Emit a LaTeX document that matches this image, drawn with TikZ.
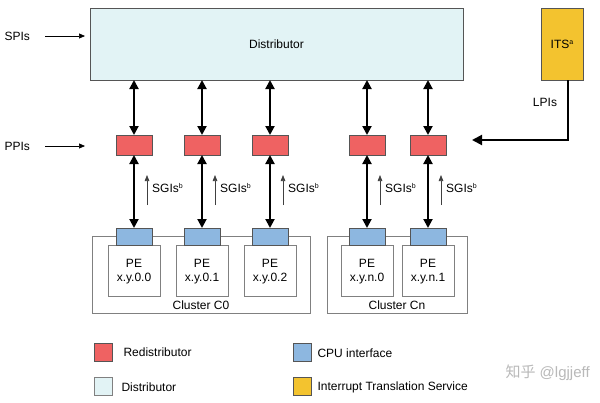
\documentclass[tikz,border=0pt]{standalone}
\usepackage{fontspec}
\usetikzlibrary{arrows.meta}
\setmainfont{Liberation Sans}
\newfontfamily\cjk{Noto Sans CJK SC}
\definecolor{distc}{HTML}{E2F3F5}
\definecolor{redc}{HTML}{EF6262}
\definecolor{bluec}{HTML}{8DB7E0}
\definecolor{itsc}{HTML}{F3C32F}
\definecolor{edge}{HTML}{555555}
\newcommand{\supsc}[1]{\raisebox{0.6ex}{\fontsize{7}{8}\selectfont #1}}
\begin{document}
\begin{tikzpicture}[x=1pt,y=-1pt,font=\fontsize{12}{14}\selectfont,
  box/.style={draw=edge,line width=0.8pt},
  bus/.style={line width=2pt,{Triangle[length=9pt,width=9pt]}-{Triangle[length=9pt,width=9pt]}},
  thin/.style={line width=0.7pt,-{Triangle[length=6pt,width=5pt]}},
  sgi/.style={line width=0.7pt,draw=black!75,-{Triangle[length=6pt,width=4.5pt]}}]
\useasboundingbox (0,0) rectangle (600,402);
\fill[white] (0,0) rectangle (600,402);
\draw[box,fill=distc] (90,8) rectangle (463,80);
\node (dist) at (276.5,44) {Distributor};
\draw[box,fill=itsc] (541,8) rectangle (583,80);
\node (its) at (562,44) {ITS\supsc{a}};
\coordinate (itsb) at (568,80);
\coordinate (lpiend) at (472,140);
\draw[line width=2pt,-{Triangle[length=10pt,width=10pt]}] (itsb) |- (lpiend);
\node (lpi) at (545,102) {LPIs};
\node[anchor=west] (spi) at (1,36) {SPIs};
\node[anchor=west] (ppi) at (1,146) {PPIs};
\coordinate (spis) at (45,36);\coordinate (ppis) at (45,146);
\coordinate (spie) at (85,36);\coordinate (ppie) at (85,146);
\draw[thin] (spis) -- (spie);
\draw[thin] (ppis) -- (ppie);
\draw[box,draw=gray] (92,236) rectangle (310,313);
\draw[box,draw=gray] (327,236) rectangle (467,313);
\node (c0) at (201,309) [anchor=base] {Cluster C0};
\node (cn) at (397,309) [anchor=base] {Cluster Cn};
\foreach \i/\x/\lab in {1/134/x.y.0.0,2/202/x.y.0.1,3/270/x.y.0.2,4/367/x.y.n.0,5/428/x.y.n.1}{
  \draw[box,fill=redc] (\x-18,135) rectangle (\x+18,155);
  \coordinate (r\i t) at (\x,135); \coordinate (r\i b) at (\x,155);
  \coordinate (d\i) at (\x,80);
  \draw[box,draw=gray,fill=white] (\x-26,245) rectangle (\x+26,296);
  \draw[box,fill=bluec] (\x-18,228) rectangle (\x+18,245);
  \coordinate (c\i) at (\x,228);
  \node (pe\i) at (\x,263) {PE};
  \node (lab\i) at (\x,279) {\lab};
  \draw[bus] (d\i) -- (r\i t);
  \draw[bus] (r\i b) -- (c\i);
  \coordinate (s\i a) at (\x+13,205); \coordinate (s\i b) at (\x+13,175);
  \draw[sgi] (s\i a) -- (s\i b);
  \node[anchor=west,inner sep=1pt] (sg\i) at (\x+17,188) {SGIs\supsc{b}};
}
\draw[box,fill=redc] (94,343) rectangle (112,361);
\node[anchor=west] (l1) at (120,352) {Redistributor};
\draw[box,draw=gray,fill=distc] (94,377) rectangle (112,395);
\node[anchor=west] (l2) at (118,387) {Distributor};
\draw[box,fill=bluec] (293,343) rectangle (311,361);
\node[anchor=west] (l3) at (314,353) {CPU interface};
\draw[box,fill=itsc] (293,377) rectangle (311,395);
\node[anchor=west] (l4) at (314,387) {Interrupt Translation Service};
\node[anchor=west,text=gray!55] (wm) at (502,373) {\fontsize{15}{17}\selectfont{\cjk 知乎} @lgjjeff};
\end{tikzpicture}
\end{document}
